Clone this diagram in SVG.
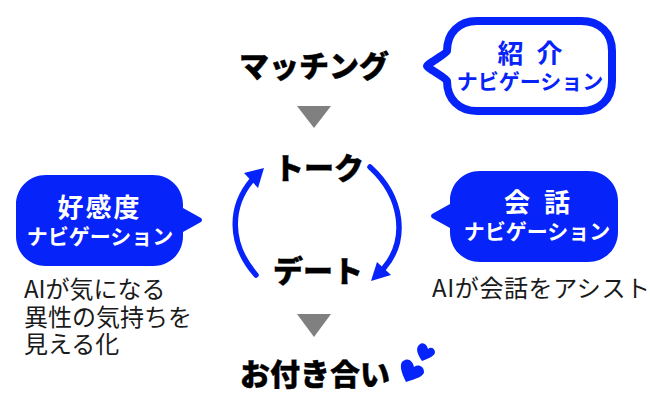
<svg xmlns="http://www.w3.org/2000/svg" width="650" height="418" viewBox="0 0 650 418">
<style>
text{font-family:"Noto Sans CJK JP","Noto Sans",sans-serif}
.main{font-size:30px;font-weight:900;fill:#000;text-anchor:middle;stroke:#000;stroke-width:.4}
.title{font-size:26px;font-weight:700;text-anchor:middle}
.nav{font-size:21px;font-weight:700;text-anchor:middle}
.note{font-size:24px;font-weight:400;fill:#1a1a1a}
.w{fill:#fff}.b{fill:#0623fa}
.tri{fill:#808080}
.arc{fill:none;stroke:#0623fa;stroke-width:5.5;stroke-linecap:round}
.head{fill:#0623fa}
</style>
<rect width="650" height="418" fill="#fff"/>
<g id="connectors">
<polygon class="tri" points="297,106 331,106 314,128"/>
<polygon class="tri" points="297,314 331,314 314,337"/>
<path class="arc" d="M370 167C403 197 408 240 384 268"/>
<polygon class="head" points="371,281 377,262 391,275"/>
<path class="arc" d="M256 275C228 243 230 206 252 180"/>
<polygon class="head" points="264,168 244,173 258,188"/>
</g>
<g id="matching"><text class="main" x="314" y="77">マッチング</text></g>
<g id="talk"><text class="main" x="319" y="179">トーク</text></g>
<g id="date"><text class="main" x="318" y="282">デート</text></g>
<g id="dating"><text class="main" x="315" y="385">お付き合い</text></g>
<g id="hearts">
<path class="b" d="M406 382C401 372 399 364 403 361C408 357 413 361 414 367C418 364 424 366 424 372C424 376 416 379 406 382Z"/>
<path class="b" d="M422 361C418 355 415 349 419 345C423 341 427 345 428 349C431 346 435 349 435 352C435 356 429 358 422 361Z"/>
</g>
<g id="intro">
<path d="M447 51C447 33 459 21 477 21H581C600 21 612 33 612 51V81C612 99 600 111 581 111H477C459 111 447 99 447 81C446 78 427 68 427 66C427 64 446 54 447 51Z" fill="#fff" stroke="#0623fa" stroke-width="8" stroke-linejoin="round"/>
<text class="title b" x="530" y="63" style="word-spacing:7px">紹 介</text>
<text class="nav b" x="530" y="89">ナビゲーション</text>
</g>
<g id="favor">
<path class="b" d="M46 175H153C170 175 183 188 183 205V208L201 218Q203 220 201 222L183 232V236C183 253 170 266 153 266H46C29 266 16 253 16 236V205C16 188 29 175 46 175Z"/>
<text class="title w" x="99.500" y="217" style="letter-spacing:2px">好感度</text>
<text class="nav w" x="100" y="244">ナビゲーション</text>
</g>
<g id="talknav">
<path class="b" d="M480 171H588C605 171 618 184 618 201V232C618 249 605 262 588 262H480C463 262 450 249 450 232V228L432 218Q430 216 432 214L450 204V201C450 184 463 171 480 171Z"/>
<text class="title w" x="537" y="212" style="word-spacing:8px">会 話</text>
<text class="nav w" x="537" y="239">ナビゲーション</text>
</g>
<g id="notes">
<text class="note" x="24" y="298">AIが気になる</text>
<text class="note" x="24" y="326">異性の気持ちを</text>
<text class="note" x="24" y="353">見える化</text>
<text class="note" x="432" y="297" style="letter-spacing:.6px">AIが会話をアシスト</text>
</g>
</svg>
